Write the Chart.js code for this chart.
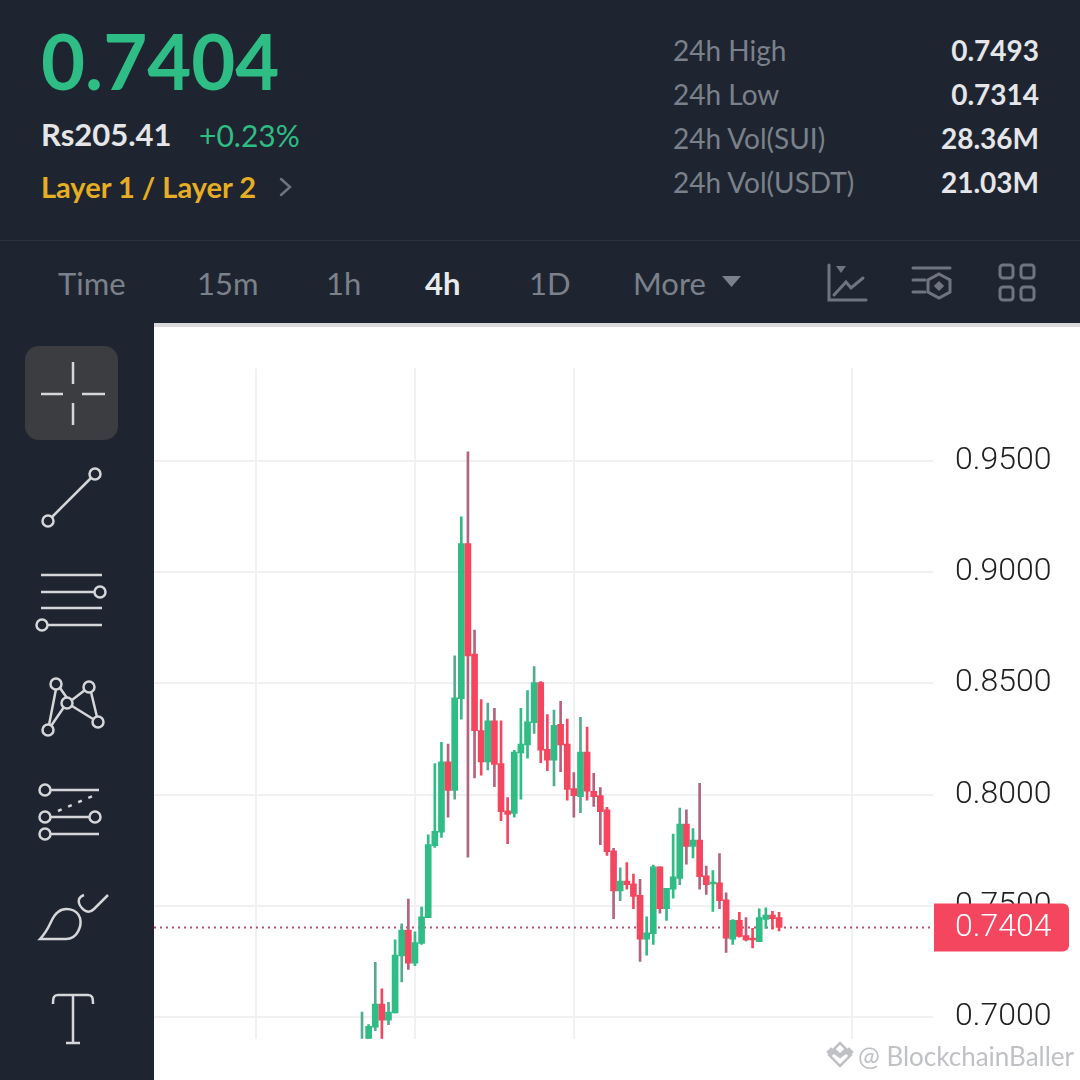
<!DOCTYPE html>
<html lang="en">
<head>
    <meta charset="UTF-8">
    <title>SUI/USDT 4h</title>
    <script src="https://cdn.jsdelivr.net/npm/chart.js@4"></script>
    <style>
        body, html {
            margin: 0;
            padding: 0;
            width: 1080px;
            height: 1080px;
            overflow: hidden;
            background: #1f2530;
            font-family: Lato, sans-serif;
        }
        .t {
            position: absolute;
            white-space: nowrap;
            line-height: 1;
        }
        .r { text-align: right; }
        .stat { font-size: 28px; color: #7b818b; left: 673px; }
        .val { font-size: 28px; font-weight: 700; color: #e4e6e9; right: 41px; }
        .tab { font-size: 31px; color: #7b818b; top: 268px; }
        #sep { position: absolute; left: 0; top: 240px; width: 1080px; height: 1px; background: #2c323d; }
        #band { position: absolute; left: 154px; top: 323px; width: 926px; height: 4px; background: #d9dadc; }
        #plot { position: absolute; left: 154px; top: 327px; width: 926px; height: 753px; background: #fff; }
        #icons { position: absolute; left: 0; top: 0; }
        #mark { position: absolute; left: 858px; top: 1040px; font: 400 26px Lato, sans-serif; color: rgba(170,172,176,0.75); white-space: nowrap; }
    </style>
</head>
<body>
    <div class="t" style="left:41px;top:23px;font-size:76px;font-weight:700;color:#2ebd85">0.7404</div>
    <div class="t" style="left:41px;top:119px;font-size:31px;font-weight:700;color:#e4e6e9">Rs205.41</div>
    <div class="t" style="left:199px;top:120px;font-size:30px;color:#2ebd85">+0.23%</div>
    <div class="t" style="left:41px;top:172px;font-size:29px;font-weight:700;color:#e6ae24">Layer 1 / Layer 2</div>

    <div class="t stat" style="top:36px">24h High</div>
    <div class="t stat" style="top:80px">24h Low</div>
    <div class="t stat" style="top:124px">24h Vol(SUI)</div>
    <div class="t stat" style="top:168px">24h Vol(USDT)</div>
    <div class="t val" style="top:36px">0.7493</div>
    <div class="t val" style="top:80px">0.7314</div>
    <div class="t val" style="top:124px">28.36M</div>
    <div class="t val" style="top:168px">21.03M</div>

    <div id="sep"></div>
    <div class="t tab" style="left:58px">Time</div>
    <div class="t tab" style="left:197px">15m</div>
    <div class="t tab" style="left:326px">1h</div>
    <div class="t tab" style="left:425px;color:#e8eaec;font-weight:700">4h</div>
    <div class="t tab" style="left:529px">1D</div>
    <div class="t tab" style="left:633px">More</div>

    <div id="band"></div>
    <div id="plot"><canvas id="chart" width="926" height="753"></canvas></div>

    <svg id="icons" width="1080" height="1080" fill="none" stroke-linecap="round" pointer-events="none">
        <path d="M281 179l9 8-9 8" stroke="#6f7580" stroke-width="2.5"/>
        <path d="M722 276h19l-9.500 11z" fill="#7b818b"/>
        <g stroke="#6f7580" stroke-width="3">
            <path d="M829 265v35h37M834 295l12-13 5 6 12-10"/>
            <path d="M836 266h10l-5 7z" fill="#6f7580" stroke="none"/>
            <path d="M913 268h37M913 280h12M913 292h12"/>
            <path d="M939 274l11 6v12l-11 6-11-6v-12z"/>
            <path d="M939 283l3 3-3 3-3-3z" fill="#6f7580"/>
            <rect x="1000" y="265" width="13" height="13" rx="3"/>
            <rect x="1021" y="265" width="13" height="13" rx="3"/>
            <rect x="1000" y="287" width="13" height="13" rx="3"/>
            <rect x="1021" y="287" width="13" height="13" rx="3"/>
        </g>
        <rect x="25" y="346" width="93" height="94" rx="14" fill="#3c3d40"/>
        <g stroke="#d5d6d9" stroke-width="2.500" stroke-linecap="butt">
            <path d="M73 362v22M73 403v22M41 394h22M82 394h23"/>
            <path d="M52 517l39-39"/>
            <circle cx="48" cy="521" r="5.500"/><circle cx="95" cy="474" r="5.500"/>
            <path d="M41 575h61M41 592h53M41 608h61M48 625h54"/>
            <circle cx="100" cy="592" r="5.500"/><circle cx="42" cy="625" r="5.500"/>
            <path d="M49 725l7-36M60 688l7 10M72 700l13-10M91 692l6 25M51 726l13-19M72 706l21 13"/>
            <circle cx="56" cy="684" r="5.500"/><circle cx="89" cy="687" r="5.500"/><circle cx="67" cy="703" r="5.500"/>
            <circle cx="48" cy="730" r="5.500"/><circle cx="98" cy="722" r="5.500"/>
            <path d="M51 790h48M51 817h38M51 834h48"/>
            <path d="M58 811l37-16" stroke-dasharray="4 7"/>
            <circle cx="45" cy="790" r="5.500"/><circle cx="45" cy="817" r="5.500"/><circle cx="95" cy="817" r="5.500"/><circle cx="45" cy="834" r="5.500"/>
            <path d="M40 939h26c12 0 16-14 14-21-3-10-16-11-22-6-8 6-6 14-18 27z"/>
            <path d="M84 895c-8 3-6 10 0 15 4 3 7 2 10-1l14-14"/>
            <path d="M53 1004c0-7 1-9 5-9h30c4 0 5 2 5 9M73 995v48M66 1043h14"/>
        </g>
    </svg>

    <div id="mark">@ BlockchainBaller</div>
    <svg style="position:absolute;left:825px;top:1040px" width="30" height="30" fill="none" stroke="rgba(170,172,176,0.75)" stroke-width="2.500">
        <path d="M15 3l6 6-6 6-6-6zM6 9l3 3-3 3-3-3zM24 9l3 3-3 3-3-3zM15 17l8-6 3 4-11 11-11-11 3-4z"/>
    </svg>

    <script>
        const opens = [0.6800,0.6884,0.6956,0.7060,0.6988,0.7020,0.7276,0.7392,0.7244,0.7332,0.7448,0.7772,0.7832,0.8148,0.8020,0.8432,
            0.9128,0.8632,0.8288,0.8148,0.8332,0.8140,0.7928,0.7916,0.8188,0.8224,0.8324,0.8504,0.8204,0.8156,0.8316,0.8228,
            0.8028,0.7992,0.8192,0.8016,0.7996,0.7932,0.7748,0.7568,0.7612,0.7600,0.7548,0.7352,0.7376,0.7676,0.7488,0.7576,
            0.7624,0.7868,0.7768,0.7796,0.7636,0.7600,0.7604,0.7528,0.7352,0.7436,0.7368,0.7356,0.7340,0.7440,0.7460,0.7448];
        const highs = [0.7024,0.6968,0.7248,0.7128,0.7068,0.7348,0.7420,0.7532,0.7384,0.7496,0.7820,0.8140,0.8236,0.8228,0.8624,0.9248,
            0.9540,0.8740,0.8428,0.8412,0.8388,0.8332,0.7988,0.8200,0.8388,0.8468,0.8576,0.8508,0.8360,0.8380,0.8420,0.8340,
            0.8100,0.8348,0.8304,0.8096,0.8032,0.7944,0.7760,0.7672,0.7696,0.7644,0.7620,0.7452,0.7684,0.7676,0.7580,0.7824,
            0.7940,0.7932,0.7848,0.8052,0.7680,0.7660,0.7736,0.7560,0.7440,0.7472,0.7448,0.7400,0.7488,0.7492,0.7476,0.7472];
        const lows = [0.6760,0.6844,0.6940,0.6864,0.6968,0.7020,0.7160,0.7216,0.7232,0.7328,0.7448,0.7764,0.7808,0.7900,0.7980,0.8340,
            0.7720,0.8076,0.8088,0.8112,0.8036,0.7884,0.7780,0.7900,0.7980,0.8164,0.8276,0.8144,0.8108,0.8040,0.8104,0.7976,
            0.7900,0.7920,0.7976,0.7948,0.7776,0.7728,0.7444,0.7524,0.7576,0.7488,0.7252,0.7280,0.7328,0.7468,0.7436,0.7536,
            0.7596,0.7688,0.7716,0.7576,0.7552,0.7476,0.7488,0.7292,0.7328,0.7360,0.7344,0.7312,0.7340,0.7400,0.7396,0.7388];
        const closes = [0.6890,0.6960,0.7060,0.6988,0.7024,0.7280,0.7392,0.7244,0.7336,0.7452,0.7776,0.7836,0.8148,0.8020,0.8436,0.9128,
            0.8624,0.8288,0.8148,0.8332,0.8136,0.7924,0.7912,0.8192,0.8228,0.8328,0.8504,0.8200,0.8156,0.8312,0.8224,0.8024,
            0.7996,0.8192,0.8016,0.7992,0.7924,0.7744,0.7568,0.7612,0.7596,0.7544,0.7352,0.7380,0.7676,0.7488,0.7580,0.7632,
            0.7868,0.7768,0.7796,0.7632,0.7596,0.7608,0.7524,0.7356,0.7436,0.7364,0.7348,0.7348,0.7448,0.7460,0.7444,0.7404];

        const priceTicks = [0.70, 0.75, 0.80, 0.85, 0.90, 0.95];
        const dayTicks = [-16, 8, 32, 74]; // candle numbers where the vertical grid lines sit
        const lastPrice = 0.7404;

        // candles whose wick comes out duller in the screenshot
        const dullWicks = [0,2,4,6,7,13,14,16,17,19,20,26,29,30,32,33,35,36,38,39,42,45,48,49,51,52,54,55,58];

        const green = '#2fbc85', red = '#f4465f';
        const xMin = -31.42, xMax = 86.25;
        const yMin = 0.6904, yMax = 0.9916;

        const isUp = i => closes[i] >= opens[i];
        const bodies = opens.map((o, i) => ({ x: i, y: [o, closes[i]] }));
        const wicks = lows.map((l, i) => ({ x: i, y: [l, highs[i]] }));

        // last price tag on the price axis
        const priceTag = {
            id: 'priceTag',
            afterDraw(chart) {
                const { ctx, chartArea, scales } = chart;
                const y = scales.y.getPixelForValue(lastPrice);
                const x = chartArea.right + 1;
                ctx.save();
                ctx.fillStyle = red;
                ctx.beginPath();
                ctx.roundRect(x, y - 24, 135, 48, [0, 6, 6, 0]);
                ctx.fill();
                ctx.fillStyle = '#fff';
                ctx.font = '300 32px Roboto';
                ctx.textBaseline = 'middle';
                ctx.fillText(lastPrice.toFixed(4), chartArea.right + 22, y + 1);
                ctx.restore();
            }
        };

        new Chart(document.getElementById('chart'), {
            type: 'bar',
            data: {
                datasets: [{
                    data: bodies,
                    grouped: false,
                    barThickness: 6,
                    order: 1,
                    backgroundColor: bodies.map((b, i) => isUp(i) ? green : red)
                }, {
                    data: wicks,
                    grouped: false,
                    barThickness: 2,
                    order: 2,
                    backgroundColor: wicks.map((w, i) => {
                        const dull = dullWicks.includes(i);
                        if (isUp(i)) return dull ? '#55ab8f' : green;
                        return dull ? '#b5637c' : red;
                    })
                }, {
                    type: 'line',
                    data: [{ x: xMin, y: lastPrice }, { x: xMax, y: lastPrice }],
                    order: 3,
                    borderColor: '#b9506c',
                    borderWidth: 2,
                    borderDash: [2, 4],
                    pointRadius: 0
                }]
            },
            options: {
                responsive: false,
                animation: false,
                layout: { padding: 0 },
                plugins: { legend: { display: false }, tooltip: { enabled: false } },
                scales: {
                    x: {
                        type: 'linear',
                        min: xMin,
                        max: xMax,
                        offset: false,
                        grid: { offset: false, color: '#f1f1f3', lineWidth: 2, drawTicks: false },
                        border: { display: false },
                        ticks: { display: false },
                        afterBuildTicks: s => { s.ticks = dayTicks.map(v => ({ value: v })); },
                        afterFit: s => { s.height = 0; }
                    },
                    y: {
                        position: 'right',
                        min: yMin,
                        max: yMax,
                        grid: { color: '#f1f1f3', lineWidth: 2, drawTicks: false },
                        border: { display: false },
                        afterBuildTicks: s => { s.ticks = priceTicks.map(v => ({ value: v })); },
                        afterFit: s => { s.width = 147; },
                        ticks: {
                            padding: 22,
                            color: '#222',
                            crossAlign: 'near',
                            font: { family: 'Roboto', size: 32, weight: 300 },
                            callback: v => v.toFixed(4)
                        }
                    }
                }
            },
            plugins: [priceTag]
        });
    </script>
</body>
</html>
